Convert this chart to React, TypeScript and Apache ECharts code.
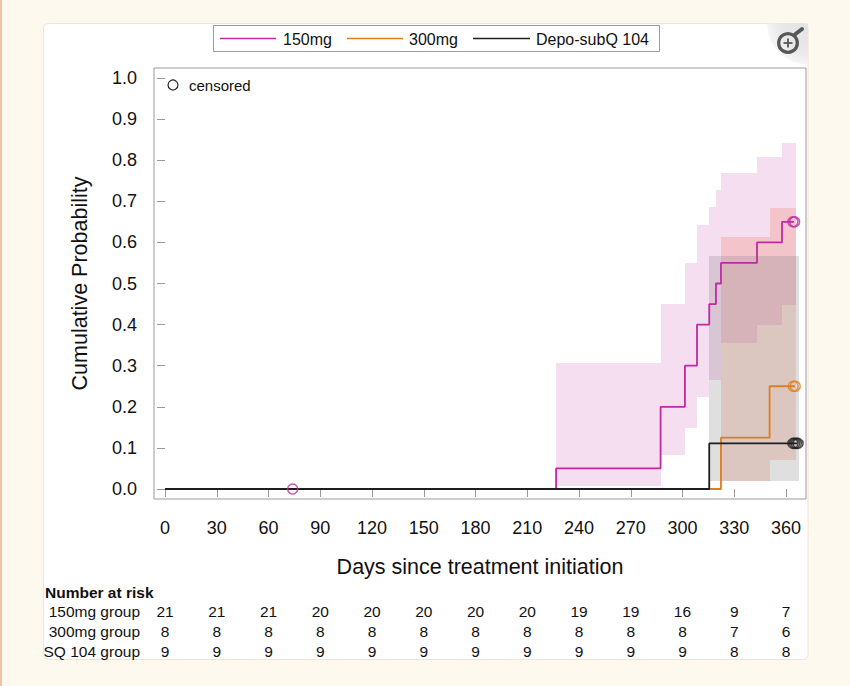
import React, { useEffect, useRef } from "react";
import * as echarts from "echarts";

const FONT = "Liberation Sans";

const xTicks = [0, 30, 60, 90, 120, 150, 180, 210, 240, 270, 300, 330, 360];
const yTicks = [0, 0.1, 0.2, 0.3, 0.4, 0.5, 0.6, 0.7, 0.8, 0.9, 1.0];

// Kaplan-Meier style step curves
const days150 = [0, 226.7, 287.3, 301.4, 308.4, 315.5, 319.4, 322.3, 343.2, 357.7, 364.6];
const prob150 = [0, 0.05, 0.2, 0.3, 0.4, 0.45, 0.5, 0.55, 0.6, 0.65, 0.65];
const days300 = [0, 322.3, 350.5, 365.2];
const prob300 = [0, 0.125, 0.25, 0.25];
const daysSQ = [0, 315.5, 366.5];
const probSQ = [0, 0.111, 0.111];

// censored observations
const cens150Days = [74, 364, 365];
const cens150Prob = [0, 0.65, 0.65];
const cens300Days = [364.2, 365.4];
const cens300Prob = [0.25, 0.25];
const censSQDays = [364, 365, 366, 367];
const censSQProb = [0.111, 0.111, 0.111, 0.111];

// confidence bands (step intervals)
const ci150Start = [226.7, 287.3, 301.4, 308.4, 315.5, 319.4, 322.3, 343.2, 357.7];
const ci150End = [287.3, 301.4, 308.4, 315.5, 319.4, 322.3, 343.2, 357.7, 365.8];
const ci150Low = [0.007, 0.082, 0.149, 0.225, 0.265, 0.265, 0.355, 0.4, 0.448];
const ci150High = [0.307, 0.45, 0.55, 0.642, 0.687, 0.727, 0.768, 0.807, 0.843];
const ci300Start = [322.3, 350.5];
const ci300End = [350.5, 365.8];
const ci300Low = [0.02, 0.07];
const ci300High = [0.612, 0.684];
const ciSQStart = [315.5];
const ciSQEnd = [367.5];
const ciSQLow = [0.02];
const ciSQHigh = [0.567];

// number at risk
const riskRows = ["150mg group", "300mg group", "SQ 104 group"];
const risk150 = [21, 21, 21, 20, 20, 20, 20, 20, 19, 19, 16, 9, 7];
const risk300 = [8, 8, 8, 8, 8, 8, 8, 8, 8, 8, 8, 7, 6];
const riskSQ = [9, 9, 9, 9, 9, 9, 9, 9, 9, 9, 9, 8, 8];

const C150 = "#c02aa4";
const C300 = "#e07d1c";
const CSQ = "#1e1e1e";

const X_MIN = -6.4;
const X_MAX = 371.6;
const Y_MIN = -0.0243;
const Y_MAX = 1.0243;

function zip(xs: number[], ys: number[]) {
  return xs.map((x, i) => [x, ys[i]]);
}

function band(name: string, s: number[], e: number[], lo: number[], hi: number[], fill: string, z: number) {
  return {
    name,
    type: "custom",
    z,
    xAxisIndex: 0,
    yAxisIndex: 0,
    encode: { x: [0, 1], y: [2, 3] },
    data: s.map((v, i) => [v, e[i], lo[i], hi[i]]),
    renderItem: (params: any, api: any) => {
      const a = api.coord([api.value(0), api.value(3)]);
      const b = api.coord([api.value(1), api.value(2)]);
      const x0 = Math.round(a[0]);
      const x1 = Math.round(b[0]);
      const y0 = Math.round(a[1]);
      const y1 = Math.round(b[1]);
      return {
        type: "rect",
        shape: { x: x0, y: y0, width: x1 - x0, height: y1 - y0 },
        style: { fill },
      };
    },
    silent: true,
  };
}

function stepLine(name: string, xs: number[], ys: number[], color: string, z: number) {
  return {
    name,
    type: "line",
    step: "end",
    z,
    symbol: "none",
    data: zip(xs, ys),
    lineStyle: { color, width: 1.8 },
    itemStyle: { color },
  };
}

function censor(name: string, xs: number[], ys: number[], color: string, size: number, z: number) {
  return {
    name,
    type: "scatter",
    z,
    symbol: "circle",
    symbolSize: size,
    data: zip(xs, ys),
    itemStyle: { color: "rgba(255,255,255,0)", borderColor: color, borderWidth: 1.5 },
  };
}

export default function App() {
  const ref = useRef<HTMLDivElement>(null);
  useEffect(() => {
    if (!ref.current) return;
    const chart = echarts.init(ref.current, undefined, { renderer: "svg" });

    const riskData: number[][] = [];
    [risk150, risk300, riskSQ].forEach((row, r) => {
      row.forEach((v, i) => riskData.push([xTicks[i], r, v]));
    });

    const legendItems = [
      { label: "150mg", color: C150, x1: 220, x2: 276, tx: 283 },
      { label: "300mg", color: C300, x1: 347, x2: 403, tx: 409 },
      { label: "Depo-subQ 104", color: CSQ, x1: 473, x2: 530, tx: 536 },
    ];

    const option: any = {
      animation: false,
      backgroundColor: "#fdf9ee",
      textStyle: { fontFamily: FONT },
      graphic: [
        { type: "rect", z: -10, shape: { x: 0, y: 0, width: 2, height: 686 }, style: { fill: "#f0c4a6" } },
        {
          type: "rect",
          z: -5,
          shape: { x: 43.5, y: 23.5, width: 764.5, height: 636, r: 5 },
          style: { fill: "#ffffff", stroke: "#f5e2d4", lineWidth: 1 },
        },
        {
          type: "sector",
          z: -4,
          shape: { cx: 808, cy: 23.5, r0: 0, r: 41, startAngle: Math.PI / 2, endAngle: Math.PI, clockwise: true },
          style: {
            fill: new echarts.graphic.RadialGradient(1, 0, 1, [
              { offset: 0, color: "#e2e2e2" },
              { offset: 0.75, color: "#eaeaea" },
              { offset: 1, color: "#f6f6f6" },
            ]),
          },
        },
        { type: "circle", z: 20, shape: { cx: 788, cy: 43, r: 9.3 }, style: { fill: "none", stroke: "#575757", lineWidth: 3.3 } },
        { type: "line", z: 20, shape: { x1: 783.5, y1: 43, x2: 792.5, y2: 43 }, style: { stroke: "#575757", lineWidth: 1.8 } },
        { type: "line", z: 20, shape: { x1: 788, y1: 38.5, x2: 788, y2: 47.5 }, style: { stroke: "#575757", lineWidth: 1.8 } },
        { type: "line", z: 20, shape: { x1: 795.5, y1: 34, x2: 802, y2: 29 }, style: { stroke: "#575757", lineWidth: 4, lineCap: "round" } },
        {
          type: "rect",
          z: 20,
          shape: { x: 213.5, y: 25.5, width: 446, height: 26 },
          style: { fill: "#ffffff", stroke: "#9a9a9a", lineWidth: 1 },
        },
        ...legendItems.flatMap((it) => [
          { type: "line", z: 21, shape: { x1: it.x1, y1: 38.5, x2: it.x2, y2: 38.5 }, style: { stroke: it.color, lineWidth: 1.5 } },
          {
            type: "text",
            z: 21,
            x: it.tx,
            y: 39,
            style: { text: it.label, fontSize: 16, fontFamily: FONT, fill: "#111", verticalAlign: "middle", align: "left" },
          },
        ]),
        { type: "circle", z: 20, shape: { cx: 173, cy: 85, r: 5 }, style: { fill: "none", stroke: "#222", lineWidth: 1.2 } },
        {
          type: "text",
          z: 20,
          x: 189,
          y: 85.5,
          style: { text: "censored", fontSize: 15, fontFamily: FONT, fill: "#111", verticalAlign: "middle", align: "left" },
        },
        {
          type: "text",
          z: 20,
          x: 45,
          y: 592.5,
          style: { text: "Number at risk", fontSize: 15.5, fontWeight: "bold", fontFamily: FONT, fill: "#111", verticalAlign: "middle", align: "left" },
        },
      ],
      grid: [
        { left: 154, top: 68, width: 652, height: 431, show: true, borderColor: "#9a9a9a", borderWidth: 1, backgroundColor: "rgba(0,0,0,0)" },
        { left: 154, top: 601, width: 652, height: 60, show: false },
      ],
      xAxis: [
        {
          type: "value",
          gridIndex: 0,
          min: X_MIN,
          max: X_MAX,
          name: "Days since treatment initiation",
          nameLocation: "middle",
          nameGap: 57,
          nameTextStyle: { fontSize: 21.5, color: "#111", fontFamily: FONT },
          axisLine: { show: false },
          splitLine: { show: false },
          axisTick: { show: true, inside: false, length: 8, lineStyle: { color: "#9a9a9a" }, customValues: xTicks },
          axisLabel: { fontSize: 18, color: "#111", margin: 20, customValues: xTicks, formatter: (v: number) => String(v) },
        },
        { type: "value", gridIndex: 1, min: X_MIN, max: X_MAX, show: false },
      ],
      yAxis: [
        {
          type: "value",
          gridIndex: 0,
          min: Y_MIN,
          max: Y_MAX,
          name: "Cumulative Probability",
          nameLocation: "middle",
          nameGap: 63,
          nameTextStyle: { fontSize: 21.5, color: "#111", fontFamily: FONT },
          axisLine: { show: false },
          splitLine: { show: false },
          axisTick: { show: true, inside: false, length: 8, lineStyle: { color: "#9a9a9a" }, customValues: yTicks },
          axisLabel: { fontSize: 18, color: "#111", margin: 17, customValues: yTicks, formatter: (v: number) => v.toFixed(1) },
        },
        {
          type: "category",
          gridIndex: 1,
          data: riskRows,
          inverse: true,
          axisLine: { show: false },
          axisTick: { show: false },
          splitLine: { show: false },
          axisLabel: { fontSize: 15.5, color: "#111", margin: 14, interval: 0, hideOverlap: false },
        },
      ],
      series: [
        band("ci150", ci150Start, ci150End, ci150Low, ci150High, "rgba(200,60,170,0.17)", 1),
        band("ci300", ci300Start, ci300End, ci300Low, ci300High, "rgba(230,110,70,0.22)", 1),
        band("ciSQ", ciSQStart, ciSQEnd, ciSQLow, ciSQHigh, "rgba(128,128,128,0.25)", 1),
        stepLine("150mg", days150, prob150, C150, 3),
        stepLine("300mg", days300, prob300, C300, 4),
        stepLine("Depo-subQ 104", daysSQ, probSQ, CSQ, 5),
        censor("c150", cens150Days, cens150Prob, C150, 10, 6),
        censor("c300", cens300Days, cens300Prob, C300, 10, 6),
        censor("cSQ", censSQDays, censSQProb, CSQ, 10, 6),
        {
          name: "risk",
          type: "custom",
          xAxisIndex: 1,
          yAxisIndex: 1,
          data: riskData,
          encode: { x: 0, y: 1 },
          renderItem: (params: any, api: any) => {
            const p = api.coord([api.value(0), api.value(1)]);
            return {
              type: "text",
              x: p[0],
              y: p[1],
              style: { text: String(api.value(2)), fontSize: 15.5, fontFamily: FONT, fill: "#111", align: "center", verticalAlign: "middle" },
            };
          },
        },
      ],
    };
    chart.setOption(option);
    return () => chart.dispose();
  }, []);
  return <div ref={ref} style={{ position: "fixed", left: 0, top: 0, width: 850, height: 686 }} />;
}
